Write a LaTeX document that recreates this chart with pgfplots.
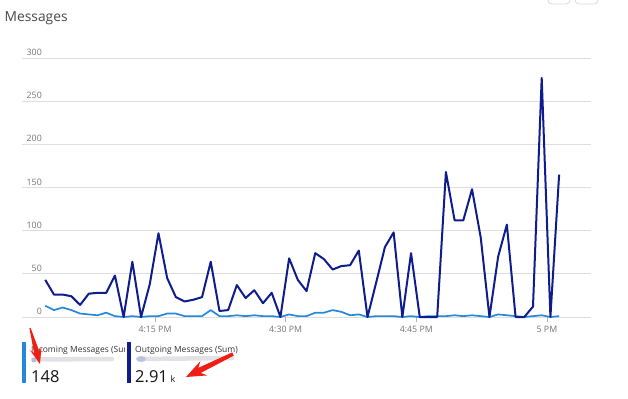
\documentclass[border=0pt]{standalone}
\usepackage{pgfplots}
\pgfplotsset{compat=1.18}
\usepackage{pgfplotstable}
\usepackage{fontspec}
\setmainfont{Open Sans}
\usetikzlibrary{calc}
\definecolor{navy}{RGB}{14,28,140}
\definecolor{lblue}{RGB}{38,136,218}
\definecolor{gridc}{RGB}{222,222,222}
\definecolor{tickc}{RGB}{115,115,115}
\definecolor{redc}{RGB}{240,30,20}
\definecolor{btn}{RGB}{215,215,230}
\definecolor{smudge}{RGB}{226,226,230}
\definecolor{blob}{RGB}{180,188,220}

\pgfplotstableread{
t in out
2.4 13 43
3.4 8 26
4.4 11 26
5.4 8 24
6.4 4 14
7.4 3 27
8.4 2 28
9.4 5 28
10.4 1 48
11.4 0 0
12.4 1 64
13.4 0 0
14.4 1 38
15.4 1 97
16.4 4 45
17.4 4 23
18.4 1 18
19.4 1 20
20.4 1 23
21.4 8 64
22.4 1 7
23.4 1 8
24.4 2 37
25.4 1 22
26.4 2 31
27.4 1 16
28.4 1 28
29.4 0 0
30.4 3 68
31.4 1 43
32.4 1 30
33.4 5 74
34.4 5 67
35.4 8 55
36.4 6 59
37.4 2 60
38.4 3 77
39.4 0 0
40.4 1 40
41.4 1 81
42.4 1 98
43.4 0 0
44.4 1 74
45.4 0 0
46.4 1 0
47.4 1 0
48.4 1 168
49.4 2 112
50.4 1 112
51.4 2 148
52.4 1 92
53.4 0 0
54.4 3 70
55.4 2 107
56.4 1 0
57.4 0 0
58.4 1 12
59.4 2 277
60.4 0 0
61.4 1 165
}\data

\newcommand{\redarrow}[6]{%
  \coordinate (T) at #1; \coordinate (P) at #2;
  \coordinate (H) at ($(P)!#3!(T)$);
  \coordinate (B) at ($(P)!#4!(T)$);
  \fill[redc] ($(T)!#6!90:(P)$) -- ($(H)!2.8bp!90:(P)$) -- ($(B)!#5!90:(P)$) -- (P)
     -- ($(B)!#5!-90:(P)$) -- ($(H)!2.8bp!-90:(P)$) -- ($(T)!#6!-90:(P)$) -- cycle;
}

\begin{document}
\begin{tikzpicture}
\path[use as bounding box] (0,0) rectangle (628bp,-399bp);
\begin{scope}
\clip (0,0) rectangle (628bp,-399bp);
\draw[btn, rounded corners=4bp, line width=0.8bp] (548bp,6bp) rectangle (570bp,-4bp);
\draw[btn, rounded corners=4bp, line width=0.8bp] (575bp,6bp) rectangle (598bp,-4bp);
\end{scope}

\node[anchor=base west, inner sep=0pt, font=\fontsize{13.8bp}{16bp}\selectfont, text=black!72] at (4.5bp,-21.7bp) {Messages};

\begin{axis}[
  at={(22bp,-317bp)}, anchor=south west,
  scale only axis, width=569bp, height=259bp,
  xmin=-0.27, xmax=65.06, ymin=0, ymax=300,
  clip=false,
  axis line style={draw=none},
  ytick={0,50,...,300},
  ymajorgrids, grid style={gridc, line width=1bp},
  ytick style={draw=none},
  xtick pos=bottom, ytick pos=left,
  xtick={15,30,45,60},
  xticklabels={4:15 PM,4:30 PM,4:45 PM,5 PM},
  tick align=inside, major tick length=5bp,
  xtick style={draw=gray!60, line width=0.6bp, yshift=-5bp},
  /pgf/number format/assume math mode=true,
  yticklabel style={anchor=base east, inner sep=0pt, xshift=20bp, yshift=2.5bp,
     font=\fontsize{8.8bp}{10bp}\selectfont, text=tickc},
  xticklabel style={anchor=base, inner sep=0pt, yshift=-15bp,
     font=\fontsize{8.8bp}{10bp}\selectfont, text=tickc},
]
\addplot[lblue, line width=1.7bp, line join=round] table[x=t, y=in] {\data};
\addplot[navy, line width=2bp, line join=round] table[x=t, y=out] {\data};
\end{axis}

% legend blocks
\fill[lblue] (21.7bp,-342bp) rectangle (26bp,-383bp);
\fill[navy] (126.5bp,-342bp) rectangle (130.5bp,-383bp);
\begin{scope}
\clip (28bp,-335bp) rectangle (124.5bp,-366bp);
\node[anchor=base west, inner sep=0pt, font=\fontsize{8.5bp}{10bp}\selectfont, text=black!80] at (31bp,-352bp) {Incoming Messages (Sum)};
\end{scope}
\node[anchor=base west, inner sep=0pt, font=\fontsize{8.5bp}{10bp}\selectfont, text=black!80] at (135bp,-352bp) {Outgoing Messages (Sum)};

\draw[smudge, line width=4.5bp, line cap=round] (33bp,-359.5bp) -- (112bp,-359bp);
\draw[smudge, line width=4.5bp, line cap=round] (140bp,-359bp) -- (232bp,-358bp);
\fill[blob] (34bp,-360bp) circle (2.5bp);
\fill[blob, opacity=0.8] (141bp,-359bp) ellipse (5bp and 3bp);

\node[anchor=base west, inner sep=0pt, font=\fontsize{16.5bp}{18bp}\selectfont, text=black!92] at (31bp,-382bp) {148};
\node[anchor=base west, inner sep=0pt, font=\fontsize{16.5bp}{18bp}\selectfont, text=black!92] at (135bp,-382bp) {2.91\,{\fontsize{9bp}{10bp}\selectfont k}};

% red annotation arrows
\redarrow{(30bp,-328bp)}{(40bp,-364bp)}{12bp}{16bp}{6bp}{0.6bp}
\redarrow{(233bp,-354bp)}{(186bp,-377bp)}{15bp}{20bp}{8bp}{1.8bp}
\end{tikzpicture}
\end{document}
